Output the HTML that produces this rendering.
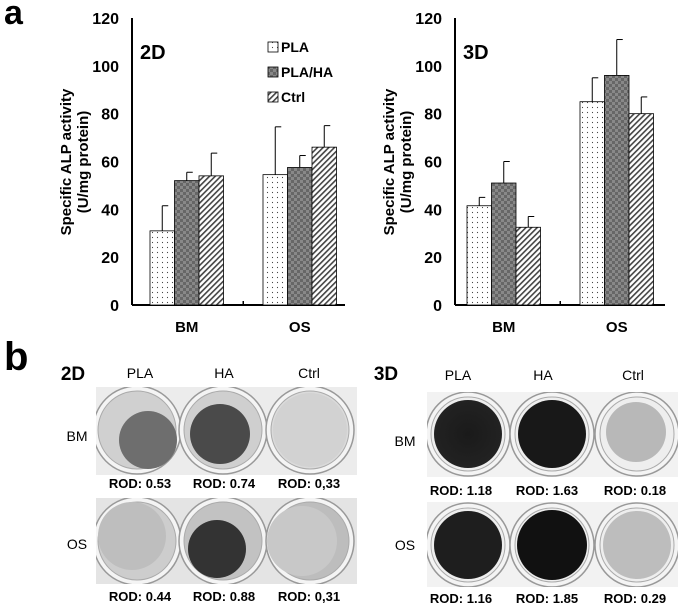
<!DOCTYPE html>
<html><head><meta charset="utf-8"><style>
body{margin:0;background:#fff}
svg{display:block;font-family:"Liberation Sans",Arial,sans-serif}
.t{font-weight:bold;font-size:16px}
</style></head><body>
<svg id="fig" width="685" height="605" viewBox="0 0 685 605">
<defs>
<pattern id="pDots" width="5" height="5" patternUnits="userSpaceOnUse"><rect width="5" height="5" fill="#fff"/><circle cx="2.5" cy="2.5" r="0.6" fill="#444"/></pattern>
<pattern id="pCheck" width="6" height="6" patternUnits="userSpaceOnUse"><rect width="6" height="6" fill="#666"/><rect width="3" height="3" fill="#888"/><rect x="3" y="3" width="3" height="3" fill="#888"/></pattern>
<pattern id="pHatch" width="4" height="4" patternUnits="userSpaceOnUse" patternTransform="rotate(45)"><rect width="4" height="4" fill="#fff"/><rect width="1.6" height="4" fill="#444"/></pattern>
<radialGradient id="gDark"><stop offset="0" stop-color="#1a1a1a"/><stop offset="1" stop-color="#222"/></radialGradient>
<clipPath id="clA"><rect x="96" y="387" width="261" height="88"/></clipPath>
<clipPath id="clB"><rect x="96" y="498" width="261" height="86"/></clipPath>
<clipPath id="clC"><rect x="427" y="392" width="251" height="85"/></clipPath>
<clipPath id="clD"><rect x="427" y="502" width="251" height="85"/></clipPath>
</defs>
<text x="4" y="24" font-size="34" font-weight="bold">a</text>
<text x="4" y="370" font-size="40" font-weight="bold">b</text>
<g id="c1"></g>
<g id="c2"></g>
<g id="photos"></g>
</svg>
<script>
const groups=["BM","OS"];
const seriesNames=["PLA","PLA/HA","Ctrl"];
const vals2D=[[31,52,54],[54.5,57.5,66]];
const err2D=[[10.5,3.5,9.5],[20,5,9]];
const vals3D=[[41.5,51,32.5],[85,96,80]];
const err3D=[[3.5,9,4.5],[10,15,7]];
const ticks=[0,20,40,60,80,100,120];
const fills=["url(#pDots)","url(#pCheck)","url(#pHatch)"];
const NS="http://www.w3.org/2000/svg";
function mk(p,t,a,txt){const e=document.createElementNS(NS,t);for(const k in a)e.setAttribute(k,a[k]);if(txt!=null)e.textContent=txt;p.appendChild(e);return e;}
function chart(g,ax,xEnd,groupStarts,vals,errs,label,legend){
  const y0=305,yTop=18,max=120;
  const y=v=>y0-(v/max)*(y0-yTop);
  const bw=24.5;
  let e=mk(g,'line',{x1:ax,y1:y0,x2:ax,y2:yTop,stroke:'#000','stroke-width':2});
  
  
  e=mk(g,'line',{x1:ax,y1:y0,x2:xEnd,y2:y0,stroke:'#000','stroke-width':2});
  
  
  ticks.forEach(t=>{
    e=mk(g,'text',{x:ax-13,y:y(t)+6,'text-anchor':'end',class:'t'},t);
    
    
  });
  const tx=ax-61,ty=162;
  e=mk(g,'text',{transform:`translate(${tx},${ty}) rotate(-90)`,'text-anchor':'middle','font-size':'15','font-weight':'bold'});
  
  
  mk(e,'tspan',{x:0,y:0},'Specific ALP activity');
  mk(e,'tspan',{x:0,y:17},'(U/mg protein)');
  mk(g,'line',{x1:(groupStarts[0]+3*bw+groupStarts[1])/2,y1:y0,x2:(groupStarts[0]+3*bw+groupStarts[1])/2,y2:y0-4,stroke:'#000','stroke-width':1.5});
  groups.forEach((gr,gi)=>{
    vals[gi].forEach((v,si)=>{
      const x=groupStarts[gi]+si*bw;
      const ey=y(v+errs[gi][si]);
      e=mk(g,'line',{x1:x+bw/2,y1:y(v),x2:x+bw/2,y2:ey,stroke:'#000','stroke-width':1});
      
      
      mk(g,'line',{x1:x+bw/2,y1:ey,x2:x+bw/2+6,y2:ey,stroke:'#000','stroke-width':1});
      e=mk(g,'rect',{x:x,y:y(v),width:bw,height:y0-y(v),fill:fills[si],stroke:'#000','stroke-width':0.8});
      
      
    });
    e=mk(g,'text',{x:groupStarts[gi]+1.5*bw,y:332,'text-anchor':'middle','font-size':'15','font-weight':'bold'},gr);
    
    
  });
  e=mk(g,'text',{x:ax+8,y:59,'font-size':'20','font-weight':'bold'},label);
  
  
  if(legend){
    seriesNames.forEach((n,i)=>{
      const ly=52+i*25;
      mk(g,'rect',{x:268,y:ly-10,width:10,height:10,fill:fills[i],stroke:'#000','stroke-width':0.8});
      e=mk(g,'text',{x:281,y:ly,'font-size':'14','font-weight':'bold'},n);
      
      
    });
  }
}
chart(document.getElementById('c1'),132,345,[150,263],vals2D,err2D,'2D',true);
chart(document.getElementById('c2'),455,665,[467,580],vals3D,err3D,'3D',false);

const P=document.getElementById('photos');
function txt(x,y,s,sz,w,name){const e=mk(P,'text',{x:x,y:y,'text-anchor':'middle','font-size':sz,'font-weight':w||'normal'},s);return e;}
txt(73,380,'2D',19,'bold','photo-2d-label');
txt(386,380,'3D',19,'bold','photo-3d-label');
[['PLA',140],['HA',224],['Ctrl',309]].forEach(a=>txt(a[1],378,a[0],14,'normal','column-header'));
[['PLA',458],['HA',543],['Ctrl',633]].forEach(a=>txt(a[1],380,a[0],14,'normal','column-header'));
txt(77,441,'BM',14,'normal','row-label');txt(77,549,'OS',14,'normal','row-label');
txt(405,446,'BM',14,'normal','row-label');txt(405,550,'OS',14,'normal','row-label');
function well(par,cx,cy,r,ix,iy,ir,fill,bg){
  mk(par,'circle',{cx:cx,cy:cy,r:r,fill:'#f4f4f4',stroke:'#999','stroke-width':1.5});
  mk(par,'circle',{cx:cx,cy:cy,r:r-5,fill:bg,stroke:'#aaa','stroke-width':1});
  const c=mk(par,'circle',{cx:ix,cy:iy,r:ir,fill:fill});
  
  
}
function photo(x,y,w,h,clip,bg){mk(P,'rect',{x:x,y:y,width:w,height:h,fill:bg});const g=mk(P,'g',{'clip-path':'url(#'+clip+')'});return g;}
let g=photo(96,387,261,88,'clA','#ececec');
well(g,137,430,44,148,440,29,'#6e6e6e','#d0d0d0');
well(g,223,430,44,220,434,30,'#4a4a4a','#cfcfcf');
well(g,310,430,44,310,430,37,'#d2d2d2','#dadada');
g=photo(96,498,261,86,'clB','#e4e4e4');
well(g,137,541,44,132,536,34,'#bebebe','#cdcdcd');
well(g,223,541,44,217,549,29,'#333','#c2c2c2');
well(g,310,541,44,302,541,35,'#c8c8c8','#bdbdbd');
g=photo(427,392,251,85,'clC','#f2f2f2');
well(g,468,434,42,468,434,34,'url(#gDark)','#eee');
well(g,552,434,42,552,434,34,'#181818','#eee');
well(g,637,434,42,636,432,30,'#b8b8b8','#eee');
g=photo(427,502,251,85,'clD','#f2f2f2');
well(g,468,545,42,468,545,34,'#1e1e1e','#eee');
well(g,552,545,42,552,545,35,'#111','#eee');
well(g,637,545,42,637,545,34,'#bdbdbd','#eee');
[['ROD: 0.53',140,488],['ROD: 0.74',224,488],['ROD: 0,33',309,488],['ROD: 0.44',140,601],['ROD: 0.88',224,601],['ROD: 0,31',309,601],
 ['ROD: 1.18',461,495],['ROD: 1.63',547,495],['ROD: 0.18',635,495],['ROD: 1.16',461,603],['ROD: 1.85',547,603],['ROD: 0.29',635,603]]
 .forEach(a=>txt(a[1],a[2],a[0],13,'bold','rod-value'));
</script>
</body></html>
